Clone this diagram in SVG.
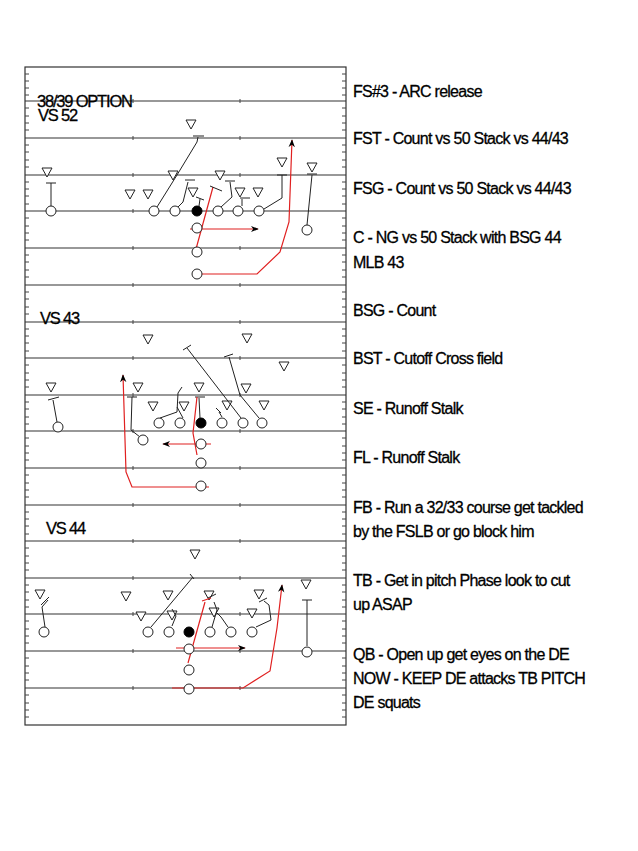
<svg xmlns="http://www.w3.org/2000/svg" width="638" height="851" viewBox="0 0 638 851">
<defs>
<style>
.f{fill:none;stroke:#333;stroke-width:1.2}
.yl{stroke:#333;stroke-width:1.2}
.tk{stroke:#444;stroke-width:1}
.o{fill:#fff;stroke:#222;stroke-width:1}
.qb{fill:#000;stroke:#000}
.d{fill:#fff;stroke:#222;stroke-width:1}
.b{fill:none;stroke:#222;stroke-width:1}
.r{fill:none;stroke:#e02020;stroke-width:1.2}
.t{font-family:"Liberation Sans",Arial,sans-serif;font-size:16px;letter-spacing:-0.75px;fill:#000;stroke:#000;stroke-width:0.3}
.h{font-family:"Liberation Sans",Arial,sans-serif;font-size:16.5px;letter-spacing:-1.2px;fill:#000;stroke:#000;stroke-width:0.3}
</style>
<marker id="ah" viewBox="0 0 10 10" refX="9" refY="5" markerWidth="8" markerHeight="8" markerUnits="userSpaceOnUse" orient="auto"><path d="M0,1 L10,5 L0,9 L3,5 Z" fill="#000"/></marker>
<path id="tri" d="M-5,-5 L5,-5 L0,4 Z"/>
<path id="ticks" d="M25,74h4M25,81h4M25,88h4M25,95h4M25,108h4M25,116h4M25,123h4M25,130h4M25,145h4M25,152h4M25,160h4M25,167h4M25,182h4M25,189h4M25,196h4M25,204h4M25,218h4M25,226h4M25,233h4M25,240h4M25,255h4M25,262h4M25,270h4M25,277h4M25,292h4M25,299h4M25,307h4M25,314h4M25,329h4M25,336h4M25,343h4M25,351h4M25,365h4M25,373h4M25,380h4M25,387h4M25,402h4M25,409h4M25,417h4M25,424h4M25,438h4M25,446h4M25,453h4M25,460h4M25,475h4M25,483h4M25,490h4M25,497h4M25,512h4M25,519h4M25,526h4M25,534h4M25,548h4M25,556h4M25,563h4M25,570h4M25,585h4M25,592h4M25,600h4M25,607h4M25,621h4M25,629h4M25,636h4M25,643h4M25,658h4M25,666h4M25,673h4M25,680h4M25,695h4M25,703h4M25,710h4M25,717h4"/>
</defs>
<g id="field">
<rect x="25" y="67" width="321" height="658" class="f"/>
<g class="yl">
<line x1="25" y1="101" x2="346" y2="101"/><line x1="25" y1="138" x2="346" y2="138"/><line x1="25" y1="175" x2="346" y2="175"/><line x1="25" y1="211" x2="346" y2="211"/><line x1="25" y1="248" x2="346" y2="248"/><line x1="25" y1="285" x2="346" y2="285"/><line x1="25" y1="322" x2="346" y2="322"/><line x1="25" y1="358" x2="346" y2="358"/><line x1="25" y1="395" x2="346" y2="395"/><line x1="25" y1="431" x2="346" y2="431"/><line x1="25" y1="468" x2="346" y2="468"/><line x1="25" y1="505" x2="346" y2="505"/><line x1="25" y1="541" x2="346" y2="541"/><line x1="25" y1="578" x2="346" y2="578"/><line x1="25" y1="614" x2="346" y2="614"/><line x1="25" y1="651" x2="346" y2="651"/><line x1="25" y1="688" x2="346" y2="688"/>
</g>
<use href="#ticks" class="tk"/>
<use href="#ticks" class="tk" transform="translate(371,0) scale(-1,1)"/>
<path class="tk" d="M133,99v4M240,99v4M133,136v4M240,136v4M133,173v4M240,173v4M133,209v4M240,209v4M133,246v4M240,246v4M133,283v4M240,283v4M133,320v4M240,320v4M133,356v4M240,356v4M133,393v4M240,393v4M133,429v4M240,429v4M133,466v4M240,466v4M133,503v4M240,503v4M133,539v4M240,539v4M133,576v4M240,576v4M133,612v4M240,612v4M133,649v4M240,649v4M133,686v4M240,686v4"/>
</g>
<g id="titles">
<text class="h" x="37" y="107">38/39 OPTION</text>
<text class="h" x="38" y="121">VS 52</text>
<text class="h" x="40" y="324">VS 43</text>
<text class="h" x="46" y="534">VS 44</text>
</g>
<g id="play52">
<g class="d"><use href="#tri" x="191" y="125"/><use href="#tri" x="47" y="173"/><use href="#tri" x="173" y="176"/><use href="#tri" x="130" y="195"/><use href="#tri" x="148" y="195"/><use href="#tri" x="220" y="176"/><use href="#tri" x="193" y="193"/><use href="#tri" x="240" y="193"/><use href="#tri" x="258" y="193"/><use href="#tri" x="282" y="163"/><use href="#tri" x="312" y="168"/></g>
<g class="b">
<path d="M51,206V183M46,183h10"/>
<path d="M157,207L177,175L197,142L198,137M193,136h11"/>
<path d="M178,207L183,202L188,182M185,180h10"/>
<path d="M199,206L200,199M196,197l8,3"/>
<path d="M221,207L232,197L230,182M225,181h10"/>
<path d="M242,206L242,199M240,198h10"/>
<path d="M264,209L282,198L282,175M277,175h10"/>
<path d="M307,225L312,175M307,174h10"/>
</g>
<g class="r"><path d="M196,249L213,187"/><path d="M190,229H258" marker-end="url(#ah)"/><path d="M192,274H257L280,252L289,222L292,140" marker-end="url(#ah)"/></g>
<path class="b" d="M210,186l12,5"/>
<g class="o"><circle cx="51" cy="211" r="5"/><circle cx="154" cy="211" r="5"/><circle cx="175" cy="211" r="5"/><circle cx="218" cy="211" r="5"/><circle cx="238" cy="211" r="5"/><circle cx="259" cy="211" r="5"/><circle cx="307" cy="230" r="5"/><circle cx="197" cy="228" r="5"/><circle cx="197" cy="252" r="5"/><circle cx="197" cy="274" r="5"/></g>
<circle class="qb" cx="197" cy="211" r="5"/>
</g>
<g id="play43">
<g class="d"><use href="#tri" x="148" y="340"/><use href="#tri" x="247" y="339"/><use href="#tri" x="284" y="367"/><use href="#tri" x="51" y="388"/><use href="#tri" x="138" y="388"/><use href="#tri" x="199" y="388"/><use href="#tri" x="246" y="389"/><use href="#tri" x="153" y="407"/><use href="#tri" x="184" y="407"/><use href="#tri" x="227" y="406"/><use href="#tri" x="264" y="406"/></g>
<g class="b">
<path d="M57,422L53,400M48,400l11,-3"/>
<path d="M140,437L131,430L132,397M127,397h10"/>
<path d="M160,418L177,412L178,393L182,387"/>
<path d="M183,418L177,407"/>
<path d="M200,418L199,398M195,397h10"/>
<path d="M222,417L219,412M216,408l5,5"/>
<path d="M241,418L187,348M183,350l8,-5"/>
<path d="M259,418L240,395L229,357M224,357l9,-3"/>
</g>
<g class="r"><path d="M197,455L193,433L197,397"/><path d="M211,444H163" marker-end="url(#ah)"/><path d="M209,487H132L126,472L123,375" marker-end="url(#ah)"/></g>
<g class="o"><circle cx="58" cy="427" r="5"/><circle cx="159" cy="423" r="5"/><circle cx="180" cy="423" r="5"/><circle cx="222" cy="423" r="5"/><circle cx="243" cy="423" r="5"/><circle cx="262" cy="423" r="5"/><circle cx="143" cy="440" r="5"/><circle cx="201" cy="444" r="5"/><circle cx="201" cy="463" r="5"/><circle cx="201" cy="486" r="5"/></g>
<circle class="qb" cx="201" cy="423" r="5"/>
</g>
<g id="play44">
<g class="d"><use href="#tri" x="195" y="555"/><use href="#tri" x="40" y="595"/><use href="#tri" x="126" y="597"/><use href="#tri" x="168" y="596"/><use href="#tri" x="209" y="596"/><use href="#tri" x="259" y="595"/><use href="#tri" x="306" y="585"/><use href="#tri" x="141" y="617"/><use href="#tri" x="172" y="616"/><use href="#tri" x="214" y="613"/><use href="#tri" x="252" y="614"/></g>
<g class="b">
<path d="M45,627L42,607L48,600M41,605l8,-8"/>
<path d="M151,627L193,577M190,574l4,5"/>
<path d="M172,626L176,616L172,609"/>
<path d="M212,627L217,610L214,602M208,598l8,-4"/>
<path d="M228,627L221,617L216,612"/>
<path d="M256,627L271,620L269,605L264,601M259,602l8,-4"/>
<path d="M307,646V600M302,600h10"/>
</g>
<g class="r"><path d="M188,663L205,602"/><path d="M202,601l9,-3"/><path d="M176,648H245" marker-end="url(#ah)"/><path d="M172,688H243L270,671L277,628L282,585" marker-end="url(#ah)"/></g>
<g class="o"><circle cx="44" cy="632" r="5"/><circle cx="148" cy="632" r="5"/><circle cx="169" cy="632" r="5"/><circle cx="210" cy="632" r="5"/><circle cx="231" cy="632" r="5"/><circle cx="252" cy="632" r="5"/><circle cx="307" cy="652" r="5"/><circle cx="189" cy="649" r="5"/><circle cx="189" cy="670" r="5"/><circle cx="189" cy="689" r="5"/></g>
<circle class="qb" cx="189" cy="632" r="5"/>
</g>
<g id="notes">
<text class="t" x="353" y="97">FS#3 - ARC release</text>
<text class="t" x="353" y="144">FST - Count vs 50 Stack vs 44/43</text>
<text class="t" x="353" y="194">FSG - Count vs 50 Stack vs 44/43</text>
<text class="t" x="353" y="243">C - NG vs 50 Stack with BSG 44</text>
<text class="t" x="353" y="268">MLB 43</text>
<text class="t" x="353" y="316">BSG - Count</text>
<text class="t" x="353" y="364">BST - Cutoff Cross field</text>
<text class="t" x="353" y="414">SE - Runoff Stalk</text>
<text class="t" x="353" y="463">FL - Runoff Stalk</text>
<text class="t" x="353" y="513">FB - Run a 32/33 course get tackled</text>
<text class="t" x="353" y="537">by the FSLB or go block him</text>
<text class="t" x="353" y="586">TB - Get in pitch Phase look to cut</text>
<text class="t" x="353" y="610">up ASAP</text>
<text class="t" x="353" y="660">QB - Open up get eyes on the DE</text>
<text class="t" x="353" y="684">NOW - KEEP DE attacks TB PITCH</text>
<text class="t" x="353" y="708">DE squats</text>
</g>
</svg>
